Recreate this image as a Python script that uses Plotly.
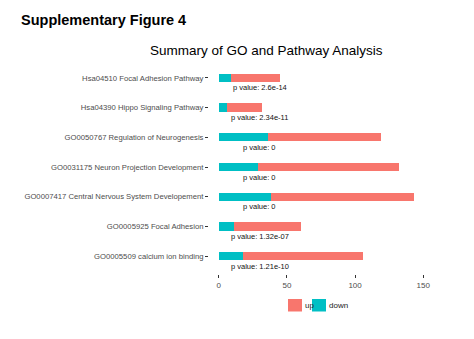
import plotly.graph_objects as go

categories = [
    "Hsa04510 Focal Adhesion Pathway",
    "Hsa04390 Hippo Signaling Pathway",
    "GO0050767 Regulation of Neurogenesis",
    "GO0031175 Neuron Projection Development",
    "GO0007417 Central Nervous System Developement",
    "GO0005925 Focal Adhesion",
    "GO0005509 calcium ion binding",
]
down_counts = [9, 6, 36, 29, 38, 11, 18]
up_counts = [36, 26, 83, 103, 105, 49, 88]
p_values = ["2.6e-14", "2.34e-11", "0", "0", "0", "1.32e-07", "1.21e-10"]
x_ticks = [0, 50, 100, 150]
legend_labels = ["up", "down"]

RED = "#F8766D"
TEAL = "#00BFC4"
FONT = "Liberation Sans, Arial, sans-serif"

W, H = 474, 339
ML, MR, MT, MB = 209, 50, 60, 65
PW, PH = W - ML - MR, H - MT - MB


def px_x(p):
    return (p - ML) / PW


def px_y(p):
    return (H - MB - p) / PH


fig = go.Figure()
fig.add_trace(go.Bar(y=categories, x=down_counts, orientation="h", name="down",
                     marker=dict(color=TEAL, line=dict(width=0)), width=0.28))
fig.add_trace(go.Bar(y=categories, x=up_counts, orientation="h", name="up",
                     marker=dict(color=RED, line=dict(width=0)), width=0.28))

for cat, p in zip(categories, p_values):
    fig.add_annotation(x=30, y=cat, text="p value: " + p, showarrow=False,
                       yshift=-10, font=dict(size=7.5, color="#111111", family=FONT))

fig.update_layout(
    width=W, height=H,
    barmode="stack",
    bargap=0,
    plot_bgcolor="white", paper_bgcolor="white",
    margin=dict(l=ML, r=MR, t=MT, b=MB),
    font=dict(family=FONT),
    showlegend=False,
    xaxis=dict(range=[-7.2, 150.6], tickvals=x_ticks, showgrid=False, zeroline=False,
               showline=False, ticks="outside", ticklen=3, tickcolor="#333333",
               tickfont=dict(size=8, color="#4d4d4d"), fixedrange=True),
    yaxis=dict(categoryorder="array", categoryarray=categories,
               range=[6.6, -0.6], showgrid=False, zeroline=False, showline=False,
               ticks="outside", ticklen=3, tickcolor="#333333",
               tickfont=dict(size=7.7, color="#4d4d4d"), fixedrange=True),
)

# manual compact legend (ggplot style)
legend_items = [(legend_labels[0], RED, 288, 303), (legend_labels[1], TEAL, 312, 327)]
for label, color, kx, tx in legend_items:
    fig.add_shape(type="rect", xref="paper", yref="paper",
                  x0=px_x(kx), x1=px_x(kx + 14), y0=px_y(311.5), y1=px_y(299),
                  fillcolor=color, line=dict(width=0))
    fig.add_annotation(text=label, xref="paper", yref="paper", x=px_x(tx), y=px_y(305.5),
                       xanchor="left", yanchor="middle", showarrow=False,
                       font=dict(size=8, color="#222222", family=FONT))

fig.add_annotation(text="<b>Supplementary Figure 4</b>", xref="paper", yref="paper",
                   x=px_x(19), y=px_y(20.5), xanchor="left", yanchor="middle",
                   showarrow=False, font=dict(size=14.5, color="black", family=FONT))
fig.add_annotation(text="Summary of GO and Pathway Analysis", xref="paper", yref="paper",
                   x=px_x(266), y=px_y(50), xanchor="center", yanchor="middle",
                   showarrow=False, font=dict(size=13.5, color="black", family=FONT))

fig.write_html("out.html")
